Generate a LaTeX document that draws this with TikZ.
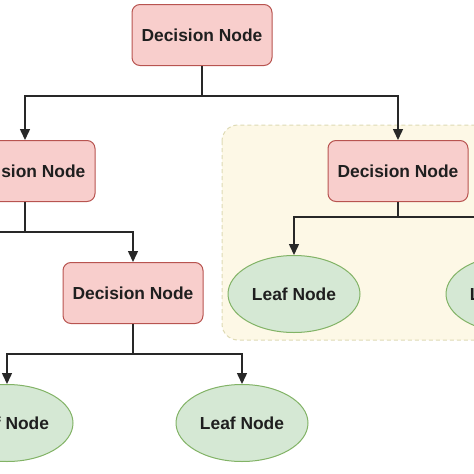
\documentclass[tikz,border=0pt]{standalone}
\usepackage{fontspec}
\setmainfont{Liberation Sans}
\usetikzlibrary{arrows.meta,shapes.geometric}
\definecolor{decfill}{RGB}{248,206,204}
\definecolor{decline}{RGB}{184,84,80}
\definecolor{leaffill}{RGB}{213,232,212}
\definecolor{leafline}{RGB}{130,179,102}
\definecolor{zonefill}{RGB}{253,248,230}
\definecolor{zoneline}{RGB}{222,218,180}
\definecolor{wirecol}{RGB}{40,40,40}
\tikzset{
  decision/.style={draw=decline,fill=decfill,rounded corners=8pt,minimum width=140pt,minimum height=61pt,line width=1pt},
  leaf/.style={ellipse,draw=leafline,fill=leaffill,minimum width=132pt,minimum height=77pt,inner sep=0pt,line width=1pt},
  wire/.style={draw=wirecol,line width=1.5pt},
}
\begin{document}
\begin{tikzpicture}[x=1pt,y=-1pt,>={Triangle[length=11pt,width=10pt]},font=\fontsize{17.4}{20}\selectfont\bfseries,text=black!88]
\useasboundingbox (0,0) rectangle (474,474);
\clip (0,0) rectangle (474,474);
% highlighted subtree
\draw[zoneline,fill=zonefill,dash pattern=on 4pt off 3pt,rounded corners=16pt,line width=1pt] (222,125) rectangle (600,340);

\node[decision] (root) at (202,35) {Decision Node};
\node[decision] (decl) at (25,171) {Decision Node};
\node[decision] (decr) at (398,171) {Decision Node};
\node[decision] (decm) at (133,293) {Decision Node};
\node[leaf] (leafa) at (294,294) {Leaf Node};
\node[leaf] (leafb) at (512,294) {Leaf Node};
\node[leaf] (leafc) at (7,423) {Leaf Node};
\node[leaf] (leafd) at (242,423) {Leaf Node};

% branch points
\coordinate (b1) at (202,96);
\coordinate (b2) at (25,232);
\coordinate (b3) at (398,217);
\coordinate (b4) at (133,354);
\coordinate (offl) at (-82,232);

\draw[wire] (root) -- (b1);
\draw[wire,->] (b1) -| (decl.north);
\draw[wire,->] (b1) -| (decr.north);
\draw[wire] (decl) -- (b2);
\draw[wire] (b2) -- (offl);
\draw[wire,->] (b2) -| (decm.north);
\draw[wire] (decr) -- (b3);
\draw[wire,->] (b3) -| (leafa.north);
\draw[wire,->] (b3) -| (leafb.north);
\draw[wire] (decm) -- (b4);
\draw[wire,->] (b4) -| (leafc.north);
\draw[wire,->] (b4) -| (leafd.north);
\end{tikzpicture}
\end{document}
